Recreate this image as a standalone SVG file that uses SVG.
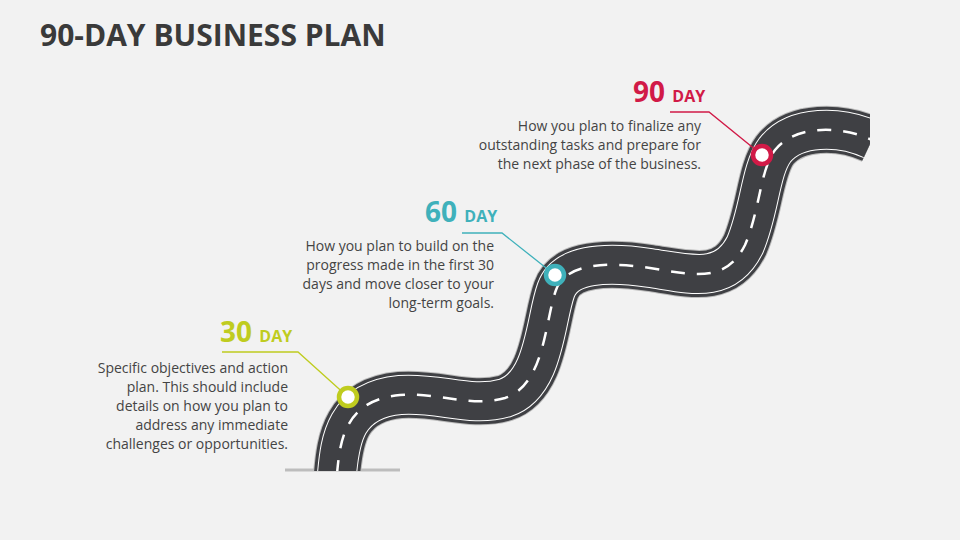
<svg xmlns="http://www.w3.org/2000/svg" width="960" height="540" viewBox="0 0 960 540">
<style>
.t{font-family:"Open Sans","Liberation Sans",sans-serif;font-size:14px;fill:#444;text-anchor:end}
.n{font-family:"Open Sans","Liberation Sans",sans-serif;font-weight:bold}
.road{fill:none}
</style>
<defs>
<path id="r" d="M337,474 C340,440 345,400 400,395 C440,392 470,408 505,398 C545,385 545,320 556,290 C566,262 610,262 650,268 C690,274 725,285 745,245 C760,210 760,170 775,150 C795,125 840,125 872,140"/>
<clipPath id="c"><rect x="0" y="0" width="870" height="471"/></clipPath>
</defs>
<rect width="960" height="540" fill="#f2f2f2"/>
<text x="40" y="46" class="n" font-size="30" fill="#3a3a3a">90-DAY BUSINESS PLAN</text>
<line x1="285" y1="470" x2="400" y2="470" stroke="#bdbdbd" stroke-width="3"/>
<g id="road" clip-path="url(#c)">
<use href="#r" class="road" stroke="#bbb" stroke-width="48"/>
<use href="#r" class="road" stroke="#3f4044" stroke-width="46"/>
<use href="#r" class="road" stroke="#fff" stroke-width="40"/>
<use href="#r" class="road" stroke="#3f4044" stroke-width="38"/>
<use href="#r" class="road" stroke="#fff" stroke-width="2.5" stroke-dasharray="14 12"/>
</g>
<g id="connectors" fill="none" stroke-width="1.3">
<polyline points="348,397 298,352 222,352" stroke="#bfcc1f"/>
<polyline points="555,275 502,233 462,233" stroke="#3fb1bb"/>
<polyline points="762,155 709,112 670,112" stroke="#d11a47"/>
</g>
<g id="n30">
<circle cx="348" cy="397" r="9" fill="#fff" stroke="#bfcc1f" stroke-width="4.5"/>
<text x="220" y="342" class="n" font-size="28" fill="#bfcc1f">30 <tspan font-size="16">DAY</tspan></text>
<text class="t"><tspan x="288" y="373">Specific objectives and action</tspan><tspan x="288" y="392">plan. This should include</tspan><tspan x="288" y="411">details on how you plan to</tspan><tspan x="288" y="430">address any immediate</tspan><tspan x="288" y="449">challenges or opportunities.</tspan></text>
</g>
<g id="n60">
<circle cx="555" cy="275" r="9" fill="#fff" stroke="#3fb1bb" stroke-width="4.5"/>
<text x="425" y="222" class="n" font-size="28" fill="#3fb1bb">60 <tspan font-size="16">DAY</tspan></text>
<text class="t"><tspan x="494" y="251">How you plan to build on the</tspan><tspan x="494" y="270">progress made in the first 30</tspan><tspan x="494" y="289">days and move closer to your</tspan><tspan x="494" y="308">long-term goals.</tspan></text>
</g>
<g id="n90">
<circle cx="762" cy="155" r="9" fill="#fff" stroke="#d11a47" stroke-width="4.5"/>
<text x="633" y="102" class="n" font-size="28" fill="#d11a47">90 <tspan font-size="16">DAY</tspan></text>
<text class="t"><tspan x="701" y="131">How you plan to finalize any</tspan><tspan x="701" y="150">outstanding tasks and prepare for</tspan><tspan x="701" y="169">the next phase of the business.</tspan></text>
</g>
</svg>
